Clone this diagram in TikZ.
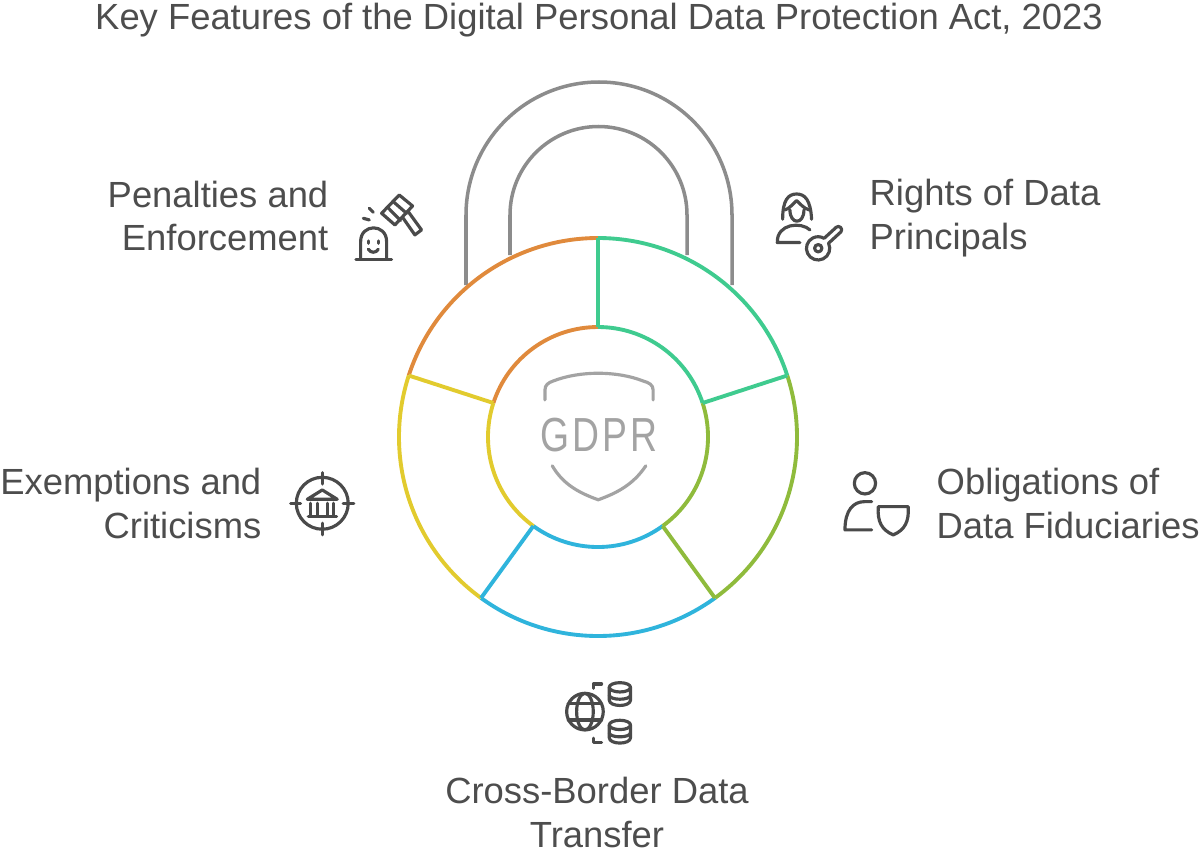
\documentclass[tikz,border=0pt]{standalone}
\usepackage{fontspec}
\setmainfont{Liberation Sans}
\definecolor{inktext}{HTML}{4D4D4D}
\definecolor{inkicon}{HTML}{4A4A4A}
\definecolor{logogray}{HTML}{A3A3A3}
\definecolor{shacklegray}{HTML}{8C8C8C}
\definecolor{ringorange}{HTML}{E08A3C}
\definecolor{ringgreen}{HTML}{3FCB8F}
\definecolor{ringolive}{HTML}{8FBB3C}
\definecolor{ringblue}{HTML}{2FB4DC}
\definecolor{ringyellow}{HTML}{E2CB2E}
\tikzset{
  caption/.style={inner sep=0pt,text=inktext,font=\fontsize{10.35}{12.5}\selectfont},
  ringline/.style={line width=1.1pt},
  iconpart/.style={x=0.003333cm,y=-0.003333cm,draw=inkicon,line width=0.9pt,line cap=round,line join=round},
}

\begin{document}
\begin{tikzpicture}[x=0.01cm,y=0.01cm]
\useasboundingbox (0,0) rectangle (1200,850);

% Title
\node[caption] (title) at (599,830) {Key Features of the Digital Personal Data Protection Act, 2023};

% Shackle
\draw[shacklegray,line width=1pt] (466,565) -- (466,635) arc (180:0:133) -- (732,565);
\draw[shacklegray,line width=1pt] (510,595) -- (510,635) arc (180:0:88.5) -- (687,595);

% Ring
\fill[white] (598,413) circle(199);
\foreach \r in {199,110}{
  \draw[ringorange,ringline] (598,413) ++(162:\r) arc (162:90:\r);
  \draw[ringgreen,ringline] (598,413) ++(90:\r) arc (90:18:\r);
  \draw[ringolive,ringline] (598,413) ++(18:\r) arc (18:-54:\r);
  \draw[ringblue,ringline] (598,413) ++(-54:\r) arc (-54:-126:\r);
  \draw[ringyellow,ringline] (598,413) ++(-126:\r) arc (-126:-198:\r);
}

% Spokes
\draw[ringgreen,ringline] (598,413) ++(90:110) -- ++(90:89);
\draw[ringgreen,ringline] (598,413) ++(18:110) -- ++(18:89);
\draw[ringolive,ringline] (598,413) ++(-54:110) -- ++(-54:89);
\draw[ringblue,ringline] (598,413) ++(-126:110) -- ++(-126:89);
\draw[ringyellow,ringline] (598,413) ++(162:110) -- ++(162:89);

% GDPR shield
\begin{scope}[shift={(520,490)},iconpart,draw=logogray]
\draw (75,120) -- (75,90) .. controls (75,75) and (85,68) .. (100,63) .. controls (180,32) and (290,32) .. (370,63) .. controls (388,68) and (400,75) .. (400,90) -- (400,120);
\draw (97,318) .. controls (130,375) and (180,400) .. (235,420) .. controls (290,400) and (340,375) .. (378,318);
\end{scope}
\node[inner sep=0pt,text=logogray,xscale=0.78,transform shape,font=\fontsize{13.6}{14}\selectfont\addfontfeatures{LetterSpace=9}] (logo) at (599,415) {GDPR};

% Labels
\node[caption,align=right,anchor=east] (penalties) at (329,634) {Penalties and\\Enforcement};
\node[caption,align=left,anchor=west] (rights) at (869,632) {Rights of Data\\Principals};
\node[caption,align=right,anchor=east] (exemptions) at (262,347) {Exemptions and\\Criticisms};
\node[caption,align=left,anchor=west] (obligations) at (936,347) {Obligations of\\Data Fiduciaries};
\node[caption,align=center] (transfer) at (597,38) {Cross-Border Data\\Transfer};

% Gavel icon
\begin{scope}[shift={(340,670)},iconpart]
\draw (125,100) -- (178,45) -- (218,78) -- (165,135) -- cycle;
\draw (143,82) -- (182,122) (160,65) -- (200,100);
\draw (188,112) -- (225,165) -- (245,150) -- (205,95);
\draw (88,85) -- (100,97) (70,115) -- (88,120);
\draw (48,238) -- (155,238);
\draw (62,238) -- (62,185) .. controls (62,130) and (140,130) .. (140,185) -- (140,238);
\draw (85,183) -- (85,190) (115,183) -- (115,190);
\draw (85,208) .. controls (92,220) and (108,220) .. (115,208);
\end{scope}

% Person with key icon
\begin{scope}[shift={(760,670)},iconpart]
\draw (68,118) .. controls (68,60) and (85,42) .. (110,42) .. controls (135,42) and (152,60) .. (155,118);
\draw (75,90) .. controls (90,85) and (100,70) .. (110,62) .. controls (120,70) and (130,85) .. (148,90);
\draw (90,90) .. controls (90,135) and (132,135) .. (132,90);
\draw (150,150) .. controls (125,125) and (50,130) .. (52,188) -- (120,188);
\draw (193,175) -- (229,142) .. controls (238,134) and (251,147) .. (243,156) -- (206,190) arc[start angle=-26,end angle=301,radius=35];
\draw (175,205) circle(11);
\end{scope}

% Bank icon
\begin{scope}[shift={(280,390)},iconpart]
\draw (127,130) circle(78);
\draw (127,38) -- (127,72) (127,190) -- (127,225) (32,130) -- (62,130) (190,130) -- (222,130);
\draw (82,118) -- (127,90) -- (172,118) -- cycle;
\draw (85,170) -- (170,170);
\draw (92,130) -- (92,165) (112,130) -- (112,165) (142,130) -- (142,165) (160,130) -- (160,165);
\end{scope}

% Person with shield icon
\begin{scope}[shift={(830,390)},iconpart]
\draw (105,70) circle(32);
\draw (125,125) -- (105,125) .. controls (70,125) and (45,150) .. (45,210) -- (125,210);
\draw (145,140) -- (235,140) .. controls (238,185) and (225,210) .. (190,225) .. controls (155,210) and (142,185) .. (145,140);
\end{scope}

% Globe and database icon
\begin{scope}[shift={(550,180)},iconpart]
\draw (105,125) circle(55);
\draw (105,125) ellipse(25 and 55);
\draw (55,100) -- (155,100) (55,150) -- (155,150);
\draw (130,55) -- (130,42) -- (155,42) (130,205) -- (130,218) -- (155,218);
\draw (210,52) ellipse(32 and 14);
\draw (178,52) -- (178,90) .. controls (178,112) and (242,112) .. (242,90) -- (242,52);
\draw (178,75) .. controls (178,92) and (242,92) .. (242,75);
\draw (210,165) ellipse(32 and 14);
\draw (178,165) -- (178,203) .. controls (178,225) and (242,225) .. (242,203) -- (242,165);
\draw (178,188) .. controls (178,205) and (242,205) .. (242,188);
\end{scope}

\end{tikzpicture}
\end{document}
